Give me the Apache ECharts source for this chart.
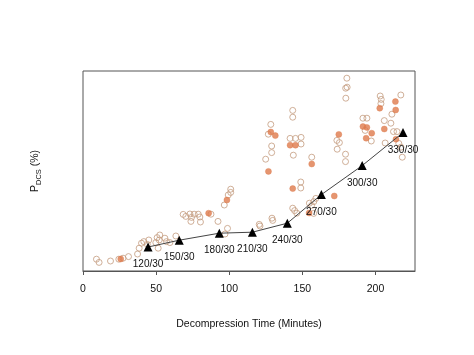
<!DOCTYPE html>
<html>
<head>
<meta charset="utf-8">
<script src="https://cdn.jsdelivr.net/npm/echarts@6/dist/echarts.min.js"></script>
<style>html,body{margin:0;padding:0;background:#fff}#c{width:474px;height:355px}</style>
</head>
<body>
<div id="c"></div>
<script>
// Open circles: decompression time (min) and P_DCS (relative %)
var openX = [9.2,11.0,18.8,24.5,27.4,31.1,37.3,38.4,40.0,41.6,45.0,49.8,50.7,52.5,52.1,51.4,57.1,59.4,56.0,63.5,
  68.5,70.3,73.1,74.2,73.8,76.0,78.8,79.9,80.3,87.5,92.3,96.6,99.3,101.0,101.0,98.8,97.1,120.5,121.0,129.2,129.7,
  124.9,126.7,128.4,129.0,129.0,143.4,143.4,141.6,145.3,149.1,149.1,143.8,148.9,148.9,143.4,144.7,146.2,154.8,156.3,
  157.8,159.2,157.7,156.4,173.6,175.3,173.8,179.5,179.5,179.7,179.6,180.4,191.4,194.1,192.9,197.1,203.2,203.9,203.7,
  206.0,206.6,210.5,211.2,217.3,212.3,214.7,215.9,217.4,218.3,180.6,44.0];
var openY = [5.9,4.3,5.0,5.9,6.4,7.2,8.5,11.4,13.9,14.7,15.5,14.2,16.7,18.0,15.5,11.4,14.7,14.2,16.4,17.5,
  28.3,27.3,28.5,26.8,24.8,28.4,28.4,27.0,24.5,28.4,24.8,33.0,38.0,39.3,40.9,21.3,18.5,23.3,22.5,26.4,25.3,
  55.9,68.4,73.3,62.5,59.2,80.3,76.9,66.3,66.3,66.8,63.5,57.9,44.5,41.5,31.4,30.2,28.9,33.9,32.8,
  34.7,36.3,28.8,56.9,65.3,64.2,60.9,58.4,54.7,86.4,91.4,96.4,76.4,76.4,70.3,65.0,87.5,85.8,83.7,
  75.2,64.0,73.9,78.4,88.0,69.7,69.7,63.8,61.9,56.9,91.9,13.3];
// Filled circles
var filledX = [25.8,85.9,98.4,128.4,131.5,126.8,141.6,145.3,143.4,156.4,154.6,171.8,174.9,191.4,194.1,197.4,193.6,202.9,206.0,213.6,213.8,214.0];
var filledY = [6.0,28.9,35.5,69.5,67.7,49.8,62.9,62.9,41.2,53.5,29.0,37.5,68.3,72.2,71.8,68.9,66.4,81.4,71.0,84.7,80.5,65.9];
// Black triangles (decompression schedules)
var triX = [44.5,65.8,93.2,115.8,139.7,163.0,190.9,218.8];
var triY = [12.0,15.4,18.9,19.4,23.9,38.2,52.7,69.2];
var triLabels = ['120/30','150/30','180/30','210/30','240/30','270/30','300/30','330/30'];
var xTicks = [0,50,100,150,200];

function zip(a,b){return a.map(function(v,i){return [v,b[i]];});}
var triData = triX.map(function(v,i){return {value:[v,triY[i]], label:{formatter:triLabels[i]}};});

var chart = echarts.init(document.getElementById('c'), null, {renderer:'canvas'});
var FONT = 'Liberation Sans, Arial, sans-serif';
chart.setOption({
  animation:false,
  backgroundColor:'#fff',
  grid:{left:83,right:59,top:71,bottom:84,show:true,borderColor:'#555',borderWidth:1,backgroundColor:'transparent'},
  xAxis:{type:'value',min:0,max:227,
    axisLine:{show:true,onZero:false,lineStyle:{color:'#555',width:1}},
    axisTick:{show:true,length:4,customValues:xTicks,lineStyle:{color:'#555'}},
    axisLabel:{customValues:xTicks,margin:13,fontSize:10.5,color:'#111',fontFamily:FONT},
    splitLine:{show:false},
    name:'Decompression Time (Minutes)',nameLocation:'middle',nameGap:48,
    nameTextStyle:{fontSize:10.5,color:'#111',fontFamily:FONT}
  },
  yAxis:{type:'value',min:0,max:100,
    axisLine:{show:false},axisTick:{show:false},axisLabel:{show:false},splitLine:{show:false},
    name:'{a|P}{b|DCS}{a| (%)}',nameLocation:'middle',nameGap:40,
    nameTextStyle:{color:'#111',fontFamily:FONT,
      rich:{a:{fontSize:10.5,color:'#111',fontFamily:FONT},
            b:{fontSize:7.5,color:'#111',fontFamily:FONT,padding:[7,0,0,0]}}}
  },
  series:[
    {type:'scatter',data:zip(openX,openY),symbol:'circle',symbolSize:6,
     itemStyle:{color:'rgba(255,255,255,0)',borderColor:'#c49c80',borderWidth:1},z:2},
    {type:'scatter',data:zip(filledX,filledY),symbol:'circle',symbolSize:6,
     itemStyle:{color:'#de7a4c',borderColor:'#de7a4c',borderWidth:0.5},z:3},
    {type:'line',data:triData,symbol:'triangle',symbolSize:9,showAllSymbol:true,
     lineStyle:{color:'#444',width:1},itemStyle:{color:'#000'},
     label:{show:true,position:'bottom',distance:8,fontSize:10,color:'#111',fontFamily:FONT},z:5}
  ]
});
</script>
</body>
</html>
